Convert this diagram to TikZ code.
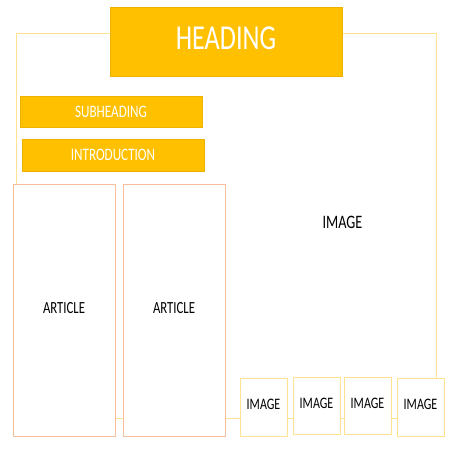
\documentclass[tikz,border=0pt]{standalone}
\usepackage{fontspec}
\setmainfont[FakeStretch=0.75]{Carlito}
\usepackage{xcolor}
\usetikzlibrary{positioning}
\definecolor{gold}{HTML}{FFC000}
\definecolor{goldedge}{HTML}{EDB200}
\definecolor{paleyellow}{HTML}{FFE393}
\definecolor{salmon}{HTML}{F4BE9C}
\tikzset{%
	banner/.style  = {draw=goldedge, fill=gold, text=white, line width=0.8pt, inner sep=0pt, text centered},
	article/.style = {draw=salmon, fill=white, line width=0.9pt, inner sep=0pt, minimum width=102pt, minimum height=252pt, text depth=4pt, font=\fontsize{17}{20}\selectfont},
	thumb/.style   = {draw=paleyellow, fill=white, line width=0.9pt, inner sep=0pt, minimum width=47pt, text depth=5pt, font=\fontsize{16}{19}\selectfont},
	frame/.style   = {draw=paleyellow, line width=0.8pt},
}
\begin{document}
\begin{tikzpicture}[x=1pt,y=-1pt]
	\useasboundingbox (0,0) rectangle (453,453);
	% outer frame
	\draw[frame] (16,33) rectangle (436,418);
	% heading boxes
	\node[banner, minimum width=232pt, minimum height=69pt, text depth=7pt, font=\fontsize{35}{40}\selectfont] (heading) at (226,41.5) {HEADING};
	\node[banner, minimum width=182pt, minimum height=31pt, font=\fontsize{17.5}{20}\selectfont] (subheading) at (111,111.5) {SUBHEADING};
	\node[banner, minimum width=182pt, minimum height=32pt, font=\fontsize{17.5}{20}\selectfont] (intro) at (113,155) {INTRODUCTION};
	% articles
	\node[article] (article1) at (64,310) {ARTICLE};
	\node[article] (article2) at (174,310) {ARTICLE};
	% images
	\node[font=\fontsize{19}{22}\selectfont] (mainimage) at (342.5,222) {IMAGE};
	\node[thumb, minimum height=58pt] (image1) at (263.5,407) {IMAGE};
	\node[thumb, minimum height=57pt] (image2) at (316.5,405.5) {IMAGE};
	\node[thumb, minimum height=57pt] (image3) at (367.5,405.5) {IMAGE};
	\node[thumb, minimum height=58pt] (image4) at (420.5,407) {IMAGE};
\end{tikzpicture}
\end{document}
